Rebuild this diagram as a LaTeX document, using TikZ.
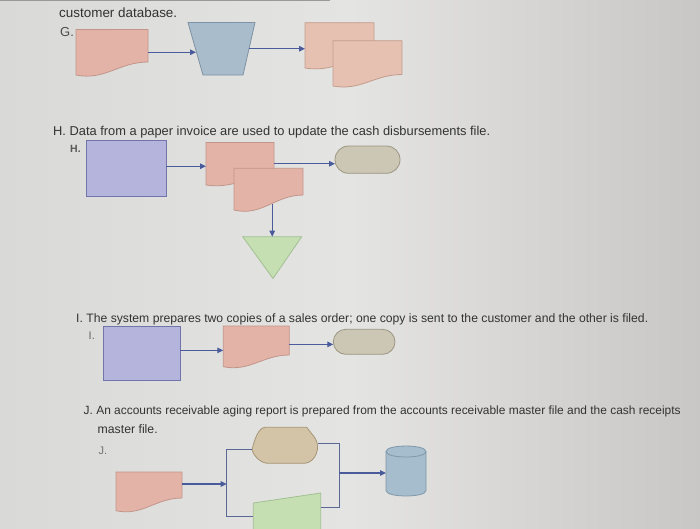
\documentclass[tikz,border=0pt]{standalone}
\usepackage{fontspec}
\usepackage{graphicx}
\setmainfont{Liberation Sans}
\usetikzlibrary{arrows.meta,fit,calc}
\definecolor{bgL}{HTML}{D9D9D7}
\definecolor{bgM}{HTML}{E4E4E2}
\definecolor{bgR}{HTML}{C9C7C5}
\definecolor{textc}{HTML}{333333}
\definecolor{arrowc}{HTML}{4A5B9C}
\definecolor{linec}{HTML}{5B6896}
\definecolor{pinkf}{HTML}{E4B3A7}
\definecolor{pinkd}{HTML}{C2958B}
\definecolor{peachf}{HTML}{E6C1B2}
\definecolor{peachd}{HTML}{C39C8C}
\definecolor{trapf}{HTML}{A8BCCB}
\definecolor{trapd}{HTML}{7E93A5}
\definecolor{lavf}{HTML}{B4B4DC}
\definecolor{lavd}{HTML}{7275AA}
\definecolor{termf}{HTML}{CCC6B5}
\definecolor{termd}{HTML}{9B9682}
\definecolor{grnf}{HTML}{C5DFB3}
\definecolor{grnd}{HTML}{A2C092}
\definecolor{tanf}{HTML}{D3C4A8}
\definecolor{tand}{HTML}{A69677}
\definecolor{cylf}{HTML}{A6BDCD}
\definecolor{cyld}{HTML}{7F97AA}
\newcommand\docnode[7]{%
  \path[#2] (#3,#4) -- (#5,#4) -- (#5,#7) .. controls ({#5-0.4*(#5-#3)},#7) and ({#3+0.4*(#5-#3)},{#6+0.45*(#6-#7)}) .. (#3,#6) -- cycle;
  \node[boxfit, fit={(#3,#4) (#5,#6)}] (#1) {};
}
\tikzset{
  boxfit/.style={inner sep=0pt, outer sep=0pt},
  arr/.style={draw=arrowc, line width=1.2pt, -{Triangle[length=6pt,width=5.5pt]}},
  conn/.style={draw=linec, line width=1pt},
  pinkshape/.style={fill=pinkf, draw=pinkd, line width=0.8pt},
  peachshape/.style={fill=peachf, draw=peachd, line width=0.8pt},
  trapshape/.style={fill=trapf, draw=trapd, line width=0.8pt},
  lavbox/.style={boxfit, fill=lavf, draw=lavd, line width=0.8pt},
  termshape/.style={boxfit, fill=termf, draw=termd, line width=0.8pt},
  grnshape/.style={fill=grnf, draw=grnd, line width=0.8pt},
  tanshape/.style={fill=tanf, draw=tand, line width=0.8pt},
  cylshape/.style={fill=cylf, draw=cyld, line width=0.8pt},
  heading/.style={anchor=base west, inner sep=0pt, text=textc, font=\fontsize{12}{14}\selectfont},
  lbl/.style={anchor=base west, inner sep=0pt},
}
\begin{document}
\begin{tikzpicture}[x=1pt,y=-1pt]
\useasboundingbox (0,0) rectangle (700,528);
\clip (0,0) rectangle (700,528);
\shade[left color=bgL, right color=bgR, middle color=bgM] (0,0) rectangle (700,528);
\draw[draw=gray!80, line width=0.8pt] (0,0.8) -- (330,0.8);

% ---------- texts ----------
\node[heading] (t0) at (59,17.5) {\resizebox{118pt}{!}{customer database.}};
\node[lbl, text=black!70, font=\fontsize{13}{15}\selectfont] (lg) at (60,36.4) {G.};
\node[heading] (hh) at (53,135) {\resizebox{437pt}{!}{H. Data from a paper invoice are used to update the cash disbursements file.}};
\node[lbl, text=black!65, font=\fontsize{10.5}{12}\selectfont\bfseries] (lh) at (70,152.8) {H.};
\node[heading] (ih) at (76,322.5) {\resizebox{572pt}{!}{I. The system prepares two copies of a sales order; one copy is sent to the customer and the other is filed.}};
\node[lbl, text=black!60, font=\fontsize{11}{13}\selectfont] (li) at (88.5,339) {I.};
\node[heading] (jh) at (83.5,414.5) {\resizebox{597pt}{!}{J. An accounts receivable aging report is prepared from the accounts receivable master file and the cash receipts}};
\node[heading] (jh2) at (97.5,433.5) {\resizebox{60pt}{!}{master file.}};
\node[lbl, text=black!55, font=\fontsize{11}{13}\selectfont] (lj) at (98.5,454) {J.};

% ---------- G ----------
\docnode{g1}{pinkshape}{76}{29.5}{148}{75}{62}
\path[trapshape] (188,22.5) -- (255,22.5) -- (243,75) -- (203,75) -- cycle;
\node[boxfit, fit={(188,22.5) (255,75)}] (gt) {};
\docnode{g2}{peachshape}{305}{22.7}{374}{68}{58}
\docnode{g3}{peachshape}{333}{40.7}{402}{86}{74.5}
\draw[arr] (g1.east) -- ([xshift=8pt]gt.west |- g1.east);
\draw[arr] ([xshift=-6pt]gt.east) -- (g2.west |- gt.east);

% ---------- H ----------
\node[lavbox, fit={(86,140) (166,196.5)}] (hr) {};
\docnode{hd1}{pinkshape}{206}{142.5}{274}{185}{176}
\docnode{hd2}{pinkshape}{234}{168.3}{303}{210}{195}
\node[termshape, rounded corners=13.5pt, fit={(335,146) (400,173.3)}] (ht) {};
\path[grnshape] (242.7,236.7) -- (301.7,236.7) -- (273,278.5) -- cycle;
\node[boxfit, fit={(242.7,236.7) (301.7,278.5)}] (htri) {};
\coordinate (hra) at ([yshift=2pt]hr.east);
\draw[arr] (hra) -- (hd1.west |- hra);
\draw[arr] (hd1.east) -- (ht.west |- hd1.east);
\draw[arr] ([yshift=6pt]htri.north |- hd2.south) -- (htri.north);

% ---------- I ----------
\node[lavbox, fit={(103,326.7) (180,380)}] (ir) {};
\docnode{id}{pinkshape}{223.3}{326}{289.3}{366.7}{355}
\node[termshape, rounded corners=12.5pt, fit={(333.3,329.3) (395,354.3)}] (it) {};
\coordinate (ira) at ([yshift=3pt]ir.east);
\coordinate (ida) at ([yshift=2pt]id.east);
\draw[arr] (ira) -- (id.west |- ira);
\draw[arr] (ida) -- (it.west |- ida);

% ---------- J ----------
\docnode{jd}{pinkshape}{116}{472}{182}{510.7}{498}
\path[tanshape] (252,450) .. controls (255,437) and (259,428) .. (265,427.3) -- (306.7,427.3) -- (315,438) .. controls (321,447) and (316,462) .. (305,463.3) -- (267,463.3) .. controls (259,462) and (254,456) .. (252,450) -- cycle;
\node[boxfit, fit={(252,427.3) (318,463.3)}] (jdisp) {};
\path[grnshape] (253.3,503) -- (320.7,493) -- (320.7,545) -- (253.3,545) -- cycle;
\node[boxfit, fit={(253.3,493) (320.7,545)}] (jm) {};
\path[cylshape] (386,451.5) -- (386,490.5) .. controls (386,497.8) and (426,497.8) .. (426,490.5) -- (426,451.5) .. controls (426,444.2) and (386,444.2) .. (386,451.5) -- cycle;
\draw[draw=cyld, line width=0.8pt] (386,451.5) .. controls (386,458.8) and (426,458.8) .. (426,451.5);
\node[boxfit, fit={(386,446) (426,496)}] (jc) {};
\coordinate (jl) at (226.7,484);
\coordinate (jr) at (339.3,473);
\draw[conn] ([yshift=-4.2pt]jdisp.west) -| (jl) |- ([yshift=2.3pt]jm.west);
\draw[conn] ([yshift=2.3pt]jdisp.east) -| (jr) |- ([yshift=12pt]jm.east);
\draw[arr] (jd.east |- jl) -- (jl);
\draw[arr] (jr) -- (jc.west |- jr);
\end{tikzpicture}
\end{document}
